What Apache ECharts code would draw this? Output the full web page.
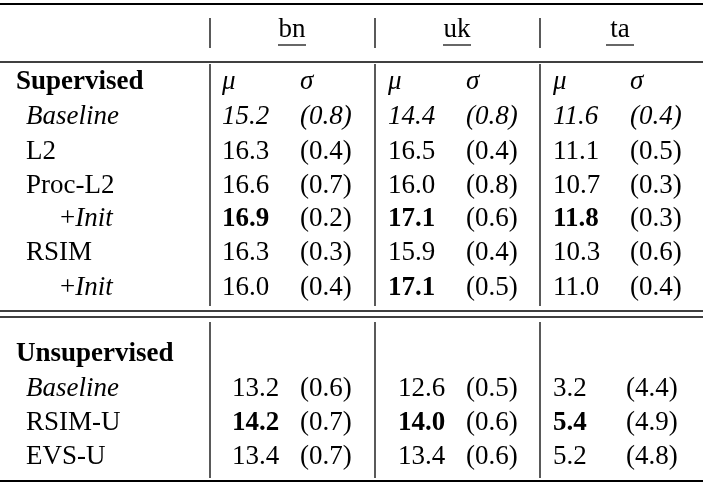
<!DOCTYPE html><html><head><meta charset="utf-8">
<script src="https://cdn.jsdelivr.net/npm/echarts@6/dist/echarts.min.js"></script>
<style>html,body{margin:0;background:#fff}#c{width:703px;height:488px}</style></head><body><div id="c"></div>
<script>
const languages = ["bn","uk","ta"];
const supNames = ["Baseline","L2","Proc-L2","+Init","RSIM","+Init"];
const supMu = [[15.2,14.4,11.6],[16.3,16.5,11.1],[16.6,16.0,10.7],[16.9,17.1,11.8],[16.3,15.9,10.3],[16.0,17.1,11.0]];
const supSd = [[0.8,0.8,0.4],[0.4,0.4,0.5],[0.7,0.8,0.3],[0.2,0.6,0.3],[0.3,0.4,0.6],[0.4,0.5,0.4]];
const supBold = [[0,0,0],[0,0,0],[0,0,0],[1,1,1],[0,0,0],[0,1,0]];
const unsNames = ["Baseline","RSIM-U","EVS-U"];
const unsMu = [[13.2,12.6,3.2],[14.2,14.0,5.4],[13.4,13.4,5.2]];
const unsSd = [[0.6,0.5,4.4],[0.7,0.6,4.9],[0.7,0.6,4.8]];
const unsBold = [[0,0,0],[1,1,1],[0,0,0]];

const muX=[222,388,553], sdX=[300,466,630], hdX=[292,457,620];
const supY=[117,152,186,219,253,288], unsY=[389,423,457];
const pts=[];
function add(x,y,t,align){pts.push({value:[x,y],label:{formatter:t,align:align||'left'}});}
languages.forEach((l,i)=>{add(hdX[i],30,'{n|'+l+'}','center');add(muX[i],82,'{i|μ}');add(sdX[i],82,'{i|σ}');});
add(16,82,'{b|Supervised}');
supNames.forEach((n,r)=>{
  const it=r===0;
  const nm=n==='+Init'?'{n|+}{i|Init}':(it?'{i|'+n+'}':'{n|'+n+'}');
  add(n==='+Init'?60:26,supY[r],nm);
  for(let i=0;i<3;i++){
    const st=it?'i':(supBold[r][i]?'b':'n');
    add(muX[i],supY[r],'{'+st+'|'+supMu[r][i].toFixed(1)+'}');
    add(sdX[i],supY[r],'{'+(it?'i':'n')+'|('+supSd[r][i].toFixed(1)+')}');
  }
});
add(16,354,'{b|Unsupervised}');
unsNames.forEach((n,r)=>{
  add(26,unsY[r],r===0?'{i|'+n+'}':'{n|'+n+'}');
  for(let i=0;i<3;i++){
    add(muX[i]+(i==2?0:10),unsY[r],'{'+(unsBold[r][i]?'b':'n')+'|'+unsMu[r][i].toFixed(1)+'}');
    add(sdX[i]+(i==2?-4:0),unsY[r],'{n|('+unsSd[r][i].toFixed(1)+')}');
  }
});
const F="'Liberation Serif','DejaVu Serif',serif";
const S=27;
const rich={n:{fontFamily:F,fontSize:S,color:'#000'},i:{fontFamily:F,fontSize:S,fontStyle:'italic',color:'#000'},b:{fontFamily:F,fontSize:S,fontWeight:'bold',color:'#000'}};
const gl=[];
function hl(y,w){gl.push({type:'line',shape:{x1:0,y1:y,x2:703,y2:y},style:{stroke:'#000',lineWidth:w||1.3}});}
function vl(x,y1,y2){gl.push({type:'line',shape:{x1:x,y1:y1,x2:x,y2:y2},style:{stroke:'#000',lineWidth:1.3}});}
hl(4,2);hl(62);hl(311);hl(317);hl(481,2);
[210,375,540].forEach(x=>{vl(x,18,48);vl(x,64,306);vl(x,322,478);});
hdX.forEach((x,i)=>{const w=languages[i].length*14;gl.push({type:'line',shape:{x1:x-w/2,y1:45,x2:x+w/2,y2:45},style:{stroke:'#000',lineWidth:1.2}});});
const c=echarts.init(document.getElementById('c'));
c.setOption({animation:false,grid:{left:0,right:0,top:0,bottom:0},
xAxis:{type:'value',min:0,max:703,show:false},yAxis:{type:'value',min:0,max:488,inverse:true,show:false},
series:[{type:'scatter',symbolSize:0,itemStyle:{opacity:1},emphasis:{disabled:true},data:pts,label:{show:true,color:'#000',opacity:1,position:'inside',verticalAlign:'middle',rich}}],graphic:gl});
</script></body></html>
